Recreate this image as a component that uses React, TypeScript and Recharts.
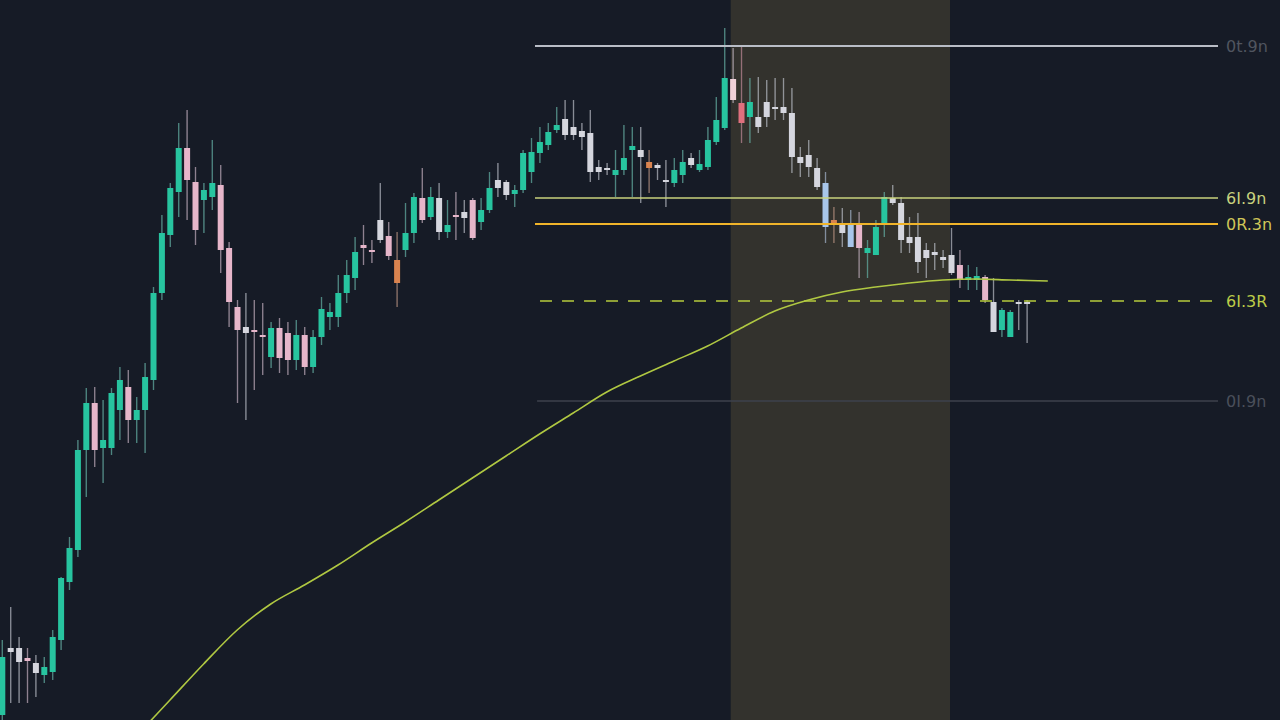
import { ComposedChart, Bar, Line, XAxis, YAxis, ReferenceLine, ReferenceArea, Label } from 'recharts'

// price bars, [open, high, low, close], one per session
const OHLC: [number, number, number, number][] = [
  [5, 80, -5, 63], [72, 113, 17, 68], [72, 83, 17, 58], [62, 72, 17, 59], [57, 65, 23, 47],
  [45, 63, 37, 53], [48, 90, 40, 83], [80, 143, 70, 142], [138, 183, 130, 172], [170, 280, 163, 270],
  [270, 332, 223, 317], [317, 333, 253, 270], [272, 320, 237, 280], [272, 332, 265, 327], [310, 353, 280, 340],
  [333, 350, 277, 300], [300, 323, 277, 310], [310, 357, 267, 343], [340, 433, 330, 427], [427, 505, 420, 487],
  [485, 537, 473, 532], [528, 597, 503, 572], [572, 610, 500, 540], [538, 553, 475, 490], [520, 537, 487, 530],
  [523, 580, 510, 537], [535, 555, 447, 470], [472, 478, 393, 418], [413, 420, 317, 390], [393, 427, 300, 387],
  [390, 420, 330, 388], [385, 417, 345, 383], [363, 398, 352, 392], [392, 402, 347, 362], [387, 398, 345, 360],
  [360, 400, 350, 385], [385, 393, 345, 353], [353, 390, 347, 383], [383, 423, 375, 411], [403, 417, 390, 408],
  [403, 445, 393, 427], [427, 460, 417, 445], [442, 483, 430, 468], [475, 495, 455, 472], [470, 480, 457, 468],
  [480, 537, 477, 500], [484, 498, 460, 464], [460, 488, 413, 437], [470, 517, 463, 487], [487, 527, 477, 523],
  [522, 552, 497, 500], [503, 533, 500, 523], [522, 537, 480, 488], [488, 520, 482, 495], [505, 528, 480, 503],
  [508, 520, 487, 502], [520, 522, 480, 482], [498, 522, 490, 510], [510, 548, 507, 532], [540, 557, 523, 532],
  [538, 540, 520, 525], [526, 535, 513, 530], [530, 570, 527, 567], [548, 582, 537, 568], [567, 593, 557, 578],
  [575, 597, 570, 588], [590, 613, 587, 595], [601, 620, 580, 585], [593, 620, 580, 585], [589, 597, 570, 583],
  [587, 610, 538, 548], [553, 560, 540, 548], [552, 557, 545, 550], [545, 570, 523, 550], [550, 595, 545, 562],
  [570, 593, 523, 574], [570, 593, 517, 563], [558, 570, 527, 552], [555, 557, 540, 552], [540, 560, 513, 538],
  [537, 562, 533, 550], [545, 570, 537, 558], [562, 567, 552, 555], [550, 570, 548, 556], [553, 593, 550, 580],
  [578, 623, 575, 600], [592, 692, 590, 642], [641, 672, 617, 620], [617, 673, 577, 597], [603, 642, 577, 618],
  [603, 643, 587, 593], [618, 640, 593, 603], [613, 642, 600, 611], [613, 642, 600, 607], [607, 632, 547, 563],
  [563, 573, 543, 557], [565, 580, 543, 553], [552, 562, 530, 533], [537, 548, 477, 493], [500, 513, 477, 495],
  [495, 512, 473, 487], [497, 510, 473, 473], [497, 508, 442, 472], [467, 480, 442, 472], [465, 500, 465, 493],
  [497, 528, 483, 523], [522, 535, 515, 517], [517, 523, 467, 480], [483, 503, 467, 477], [483, 507, 447, 458],
  [470, 477, 442, 462], [468, 477, 450, 465], [463, 470, 452, 460], [465, 492, 445, 447], [455, 470, 432, 440],
  [440, 455, 430, 443], [440, 453, 430, 444], [443, 445, 417, 420], [418, 442, 388, 388], [390, 412, 383, 410],
  [383, 410, 383, 408], [418, 420, 390, 416], [418, 420, 377, 416],
]

// slow moving average, read at a few sessions
const MA_AT = [17, 20, 24, 28, 32, 36, 40, 44, 48, 52, 56, 60, 64, 68, 72, 76, 80, 84, 88, 92, 96, 100, 104, 108, 112, 116, 120, 124.5]
const MA_VAL = [-7, 20, 56, 90, 116, 135, 155, 177, 198, 220, 242, 264, 286, 307, 328, 344, 359, 374, 392, 409, 420, 428, 433, 437, 440, 441, 440, 439]

// levels drawn on the right
const LEVELS = [674, 522, 496, 419, 319]
const LEVEL_TEXT = ['0t.9n', '6I.9n', '0R.3n', '6I.3R', '0I.9n']
const LEVEL_FROM = [63.45, 63.45, 63.45, 64.05, 63.7]
const LEVEL_TO = 144.76
const ZONE = [86.75, 112.86]

const BG = '#161b26'
const TONE: Record<string, string> = {
  teal: '#27c49f',
  pink: '#e6b6ca',
  silver: '#d5d6de',
  orange: '#d9834f',
  blush: '#efd0d8',
  red: '#e0707e',
  ice: '#a8c6ea',
}
const ACCENT: Record<number, string> = {
  1: 'silver', 2: 'silver', 4: 'silver', 29: 'silver', 45: 'silver', 52: 'silver', 55: 'silver', 59: 'silver',
  47: 'orange', 77: 'orange', 99: 'orange', 87: 'blush', 88: 'red', 98: 'ice', 101: 'ice',
  102: 'pink', 114: 'pink', 117: 'pink',
}
const LEVEL_STYLE = [
  { stroke: '#b9bdc6', width: 2, dash: undefined, text: '#50555f' },
  { stroke: '#c9d27c', width: 1.5, dash: undefined, text: '#c8d27e' },
  { stroke: '#f0b42a', width: 2, dash: undefined, text: '#cfc658' },
  { stroke: '#b6cc3c', width: 1.5, dash: '12 10', text: '#bccc48' },
  { stroke: '#3e424c', width: 1.5, dash: undefined, text: '#4a4f5a' },
]

const rows = OHLC.map(([o, h, l, c], i) => ({ i, o, h, l, c }))
const maRows = MA_AT.map((i, k) => ({ i, ma: MA_VAL[k] }))

const toneOf = (d: { i: number; o: number; c: number }) => {
  if (ACCENT[d.i]) return TONE[ACCENT[d.i]]
  if (d.c >= d.o) return TONE.teal
  return d.i < 60 ? TONE.pink : TONE.silver
}

function Candle(props: any) {
  const { x, y, width, height, payload } = props
  if (x == null || payload == null) return null
  const { o, h, l, c } = payload
  const top = Math.min(y, y + height)
  const span = Math.abs(height)
  const k = h === l ? 0 : span / (h - l)
  const yO = top + (h - o) * k
  const yC = top + (h - c) * k
  const bodyTop = Math.min(yO, yC)
  const bodyH = Math.max(Math.abs(yO - yC), 2)
  const color = toneOf(payload)
  const cx = x + width / 2
  return (
    <g>
      <line x1={cx} x2={cx} y1={top} y2={top + span} stroke="#9ea3ad" strokeOpacity={0.55} strokeWidth={1.3} />
      <line x1={cx} x2={cx} y1={top} y2={top + span} stroke={color} strokeOpacity={0.35} strokeWidth={1.3} />
      <rect x={x + 0.5} y={bodyTop} width={width - 1} height={bodyH} fill={color} />
    </g>
  )
}

export default function App() {
  return (
    <div style={{ position: 'fixed', left: 0, top: 0, width: 1280, height: 720, background: BG, overflow: 'hidden' }}>
      <ComposedChart width={1280} height={720} data={rows} margin={{ top: 0, right: 0, bottom: 0, left: 0 }}>
        <XAxis type="number" dataKey="i" domain={[-0.238, 152.14]} allowDataOverflow hide />
        <YAxis type="number" domain={[0, 720]} allowDataOverflow hide />
        <ReferenceArea x1={ZONE[0]} x2={ZONE[1]} fill="#9a8248" fillOpacity={0.22} stroke="none" />
        {LEVELS.map((v, k) => (
          <ReferenceLine
            key={k}
            segment={[{ x: LEVEL_FROM[k], y: v }, { x: LEVEL_TO, y: v }]}
            stroke={LEVEL_STYLE[k].stroke}
            strokeWidth={LEVEL_STYLE[k].width}
            strokeDasharray={LEVEL_STYLE[k].dash}
          >
            <Label
              value={LEVEL_TEXT[k]}
              position="right"
              offset={8}
              fill={LEVEL_STYLE[k].text}
              fontSize={16}
              fontFamily="DejaVu Sans"
            />
          </ReferenceLine>
        ))}
        <Bar dataKey={(d: any) => [d.l, d.h]} barSize={7} shape={Candle} isAnimationActive={false} />
        <Line
          data={maRows}
          dataKey="ma"
          type="monotone"
          stroke="#b0c842"
          strokeWidth={1.6}
          dot={false}
          isAnimationActive={false}
        />
      </ComposedChart>
    </div>
  )
}
